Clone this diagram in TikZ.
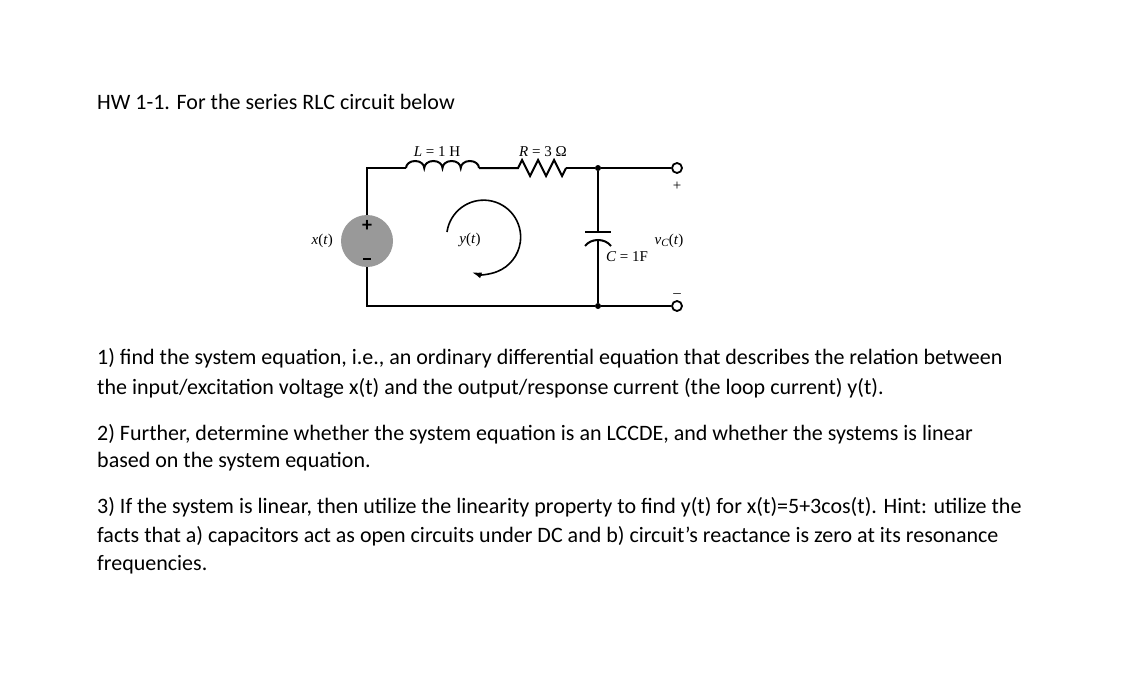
\documentclass[tikz,border=0pt]{standalone}
\usepackage{fontspec}
\setmainfont{Carlito}
\newfontfamily\cfont{Liberation Serif}
\usetikzlibrary{arrows.meta}
\newcommand{\ci}[1]{\textit{#1}}
\begin{document}
\begin{tikzpicture}[x=1pt,y=-1pt,
  wire/.style={line width=2pt},
  para/.style={anchor=west,inner sep=0pt,font=\fontsize{22}{26}\selectfont},
  clab/.style={inner sep=0pt,font=\cfont\fontsize{15}{17}\selectfont},
  term/.style={circle,draw,line width=1.8pt,fill=white,minimum size=10pt,inner sep=0pt},
  dot/.style={circle,fill=black,minimum size=6pt,inner sep=0pt}]
\useasboundingbox[fill=white] (0,0) rectangle (1129,690);
\node[para] (title) at (97,102) {HW 1-1. For the series RLC circuit below};
% source
\node[circle,fill=black!40,minimum size=52pt,inner sep=0pt] (src) at (367,241) {};
\node[font=\bfseries\fontsize{20}{20}\selectfont] (plus) at (367,226) {+};
\draw[line width=2.5pt] (363,259) -- (371,259);
\node[clab,anchor=east] (xt) at (333,241) {\ci{x}(\ci{t})};
\coordinate (tl) at (367,168);
\coordinate (bl) at (367,306);
\coordinate (l1) at (406,168);
\coordinate (l2) at (479,168);
\coordinate (r1) at (518,168);
\coordinate (r2) at (566,168);
\node[dot] (jt) at (598,168) {};
\node[dot] (jb) at (598,306) {};
\node[term] (tt) at (677,168) {};
\node[term] (tb) at (677,306) {};
\draw[wire] (src.north) -- (tl) -- (l1);
\draw[wire] (l1) arc[start angle=180,end angle=0,x radius=9.125,y radius=-7]
  arc[start angle=180,end angle=0,x radius=9.125,y radius=-7]
  arc[start angle=180,end angle=0,x radius=9.125,y radius=-7]
  arc[start angle=180,end angle=0,x radius=9.125,y radius=-7];
\draw[wire] (l2) -- (r1) -- ++(4,-8) -- ++(8,16) -- ++(8,-16) -- ++(8,16) -- ++(8,-16) -- ++(8,16) -- (r2);
\draw[wire] (r2) -- (jt) -- (tt);
\draw[wire] (src.south) -- (bl) -- (jb) -- (tb);
\draw[wire] (jt) -- (598,232) (jb) -- (598,239);
\draw[wire] (585,232) -- (611,232);
\draw[wire] (585,246) .. controls (591,238) and (605,238) .. (611,246);
\node[clab] (Llab) at (437,152) {\ci{L} = 1 H};
\node[clab] (Rlab) at (543,152) {\ci{R} = 3 Ω};
\node[clab] (Clab) at (627,257) {\ci{C} = 1F};
\node[clab] (vc) at (669,241) {\ci{v}\raisebox{-2pt}{\fontsize{11}{11}\selectfont\ci{C}}(\ci{t})};
\node[clab] (tp) at (677,186) {+};
\node[clab] (tm) at (677,296) {\textendash};
\node[clab] (yt) at (470,240) {\ci{y}(\ci{t})};
\draw[line width=1.6pt,-{Latex[length=10pt,width=6pt]}] (447,232) arc[start angle=188,end angle=469,radius=37];
% text
\node[para] (p1a) at (97,358) {1) find the system equation, i.e., an ordinary differential equation that describes the relation between};
\node[para] (p1b) at (97,388) {the input/excitation voltage x(t) and the output/response current (the loop current) y(t).};
\node[para] (p2a) at (97,434) {2) Further, determine whether the system equation is an LCCDE, and whether the systems is linear};
\node[para] (p2b) at (97,462) {based on the system equation.};
\node[para] (p3a) at (97,507) {3) If the system is linear, then utilize the linearity property to find y(t) for x(t)=5+3cos(t). Hint: utilize the};
\node[para] (p3b) at (97,536) {facts that a) capacitors act as open circuits under DC and b) circuit’s reactance is zero at its resonance};
\node[para] (p3c) at (97,565) {frequencies.};
\end{tikzpicture}
\end{document}
